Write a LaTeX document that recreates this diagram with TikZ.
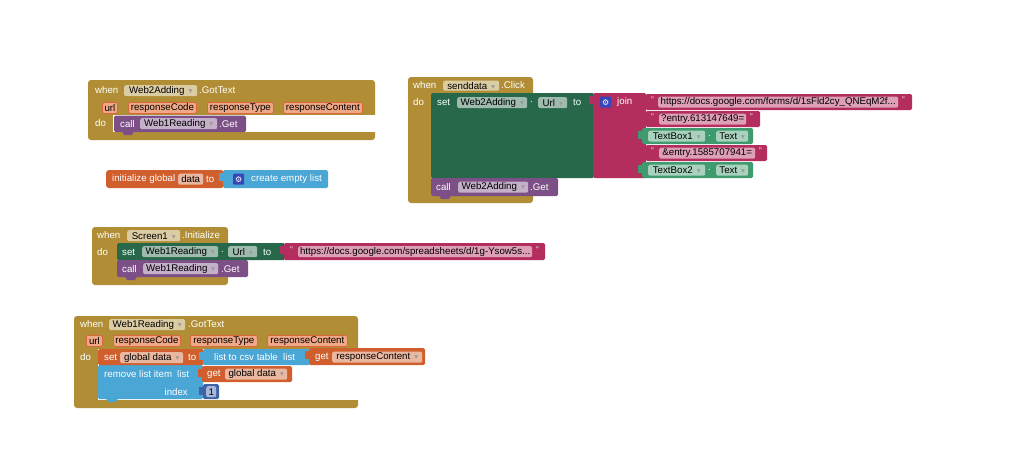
\documentclass[tikz,border=0pt]{standalone}
\usepackage{fontspec}
\setmainfont{Liberation Sans}
\newfontfamily\arrfont{DejaVu Sans}
\definecolor{olv}{HTML}{B18E35}
\definecolor{prp}{HTML}{7C5087}
\definecolor{dgr}{HTML}{27674A}
\definecolor{lgr}{HTML}{3F9A6E}
\definecolor{mag}{HTML}{B32D5E}
\definecolor{blu}{HTML}{4AA6D5}
\definecolor{org}{HTML}{D05F2D}
\definecolor{nbl}{HTML}{3F62A8}
\definecolor{gearb}{HTML}{3646B8}
\definecolor{parf}{HTML}{F0A886}
\definecolor{pard}{HTML}{D9693C}
\definecolor{arrc}{HTML}{9A9A9A}
\tikzset{
  wtxt/.style={text=white, inner sep=0pt, font=\fontsize{9.7}{11}\selectfont},
  fldst/.style={text=black, inner sep=0pt, rounded corners=2pt, font=\fontsize{9.7}{11}\selectfont},
  parst/.style={fldst, fill=parf, draw=pard, line width=0.8pt},
  blk/.style={rounded corners=1.5pt},
  gearst/.style={fill=gearb, minimum size=11pt, inner sep=0pt, rounded corners=1pt, text=white,
                 font=\arrfont\fontsize{8}{8}\selectfont, anchor=north west},
  qst/.style={text=white, inner sep=0pt, font=\fontsize{8}{8}\selectfont, anchor=west},
}
\newcommand\wt[4]{\node[wtxt,anchor=west] (#1) at (#2,#3) {#4};}
\newcommand\fd[7]{\node[fldst,fill=white!55!#6,minimum width={#4-#2},minimum height={#5-#3},anchor=north west] (#1) at (#2,#3) {#7};}
\newcommand\pr[6]{\node[parst,minimum width={#4-#2},minimum height={#5-#3},anchor=north west] (#1) at (#2,#3) {#6};}
\newcommand\dd{\hspace{4pt}{\arrfont\fontsize{7.5}{7}\selectfont\textcolor{arrc}{▾}}}
\newcommand\tb[3]{\fill[#3] (#1-4,#2+3) rectangle (#1+0.5,#2+11);}
\newcommand\nt[3]{\fill[#3] (#1+8,#2-0.5) -- (#1+10,#2+3) -- (#1+18,#2+3) -- (#1+20,#2-0.5) -- cycle;}
\begin{document}
\begin{tikzpicture}[x=1pt,y=-1pt]
\fill[white] (0,0) rectangle (1024,448);
\useasboundingbox (0,0) rectangle (1024,448);

% ---------- Block A: when Web2Adding.GotText ----------
\fill[olv,rounded corners=3pt] (88,80) rectangle (375,140);
\fill[white] (113,115) rectangle (376,131.5);
\fill[prp,blk] (114,115.5) rectangle (246,132);
\nt{114}{132}{prp}
\wt{a1}{95}{90}{when}
\fd{a2}{124}{85}{197}{96}{olv}{Web2Adding\dd}
\wt{a3}{199}{90}{.GotText}
\pr{a4}{102}{102}{117}{113}{url}
\pr{a5}{128}{102}{196}{113}{responseCode}
\pr{a6}{207}{102}{273}{113}{responseType}
\pr{a7}{283}{102}{362}{113}{responseContent}
\wt{a8}{95}{123}{do}
\wt{a9}{120}{124}{call}
\fd{a10}{140}{118}{217}{129}{prp}{Web1Reading\dd}
\wt{a11}{219}{124}{.Get}

% ---------- Block B: initialize global ----------
\fill[org,rounded corners=3pt] (106,170) rectangle (224,188);
\fill[blu,blk] (223,170) rectangle (328,188);
\tb{223}{170}{blu}
\wt{b1}{112}{179}{initialize global}
\fd{b2}{178}{173.5}{203}{184.5}{org}{data}
\wt{b3}{206}{179}{to}
\node[gearst] (b4) at (233,173.5) {⚙};
\wt{b5}{251}{179}{create empty list}

% ---------- Block C: when senddata.Click ----------
\fill[olv,rounded corners=3pt] (408,77) rectangle (533,203);
\fill[dgr,blk] (431,93) rectangle (594,178);
\fill[mag,blk] (593,93) rectangle (646,178);
\tb{593}{93}{mag}
\fill[mag,blk] (645.5,94) rectangle (912,110);
\fill[mag,blk] (645.5,111) rectangle (760,127);
\fill[lgr,blk] (642,128) rectangle (753,144);
\tb{642}{128}{lgr}
\fill[mag,blk] (645.5,145) rectangle (767,161);
\fill[lgr,blk] (642,162) rectangle (753,178);
\tb{642}{162}{lgr}
\fill[prp,blk] (431,178) rectangle (558,196);
\nt{431}{196}{prp}
\wt{c1}{413}{85}{when}
\fd{c2}{443}{80.5}{499}{90.5}{olv}{senddata\dd}
\wt{c3}{501}{85}{.Click}
\wt{c4}{413}{102}{do}
\wt{c5}{437}{102}{set}
\fd{c6}{457}{97}{527}{108}{dgr}{Web2Adding\dd}
\wt{c7}{530}{102}{.}
\fd{c8}{538}{97}{567}{108}{dgr}{Url\dd}
\wt{c9}{573}{102}{to}
\node[gearst] (c10) at (600,96.5) {⚙};
\wt{c11}{617}{102}{join}
\node[qst] (c12) at (651,100) {"};
\fd{c13}{658}{96.5}{898}{107.5}{mag}{https://docs.google.com/forms/d/1sFld2cy\_QNEqM2f...}
\node[qst] (c14) at (902,100) {"};
\node[qst] (c15) at (651,117) {"};
\fd{c16}{659}{113.5}{746}{124.5}{mag}{?entry.613147649=}
\node[qst] (c17) at (750,117) {"};
\fd{c18}{648}{130.5}{705}{141.5}{lgr}{TextBox1\dd}
\wt{c19}{708}{136}{.}
\fd{c20}{716}{130.5}{748}{141.5}{lgr}{Text\dd}
\node[qst] (c21) at (651,151) {"};
\fd{c22}{659}{147.5}{755}{158.5}{mag}{\&entry.1585707941=}
\node[qst] (c23) at (759,151) {"};
\fd{c24}{648}{164.5}{705}{175.5}{lgr}{TextBox2\dd}
\wt{c25}{708}{170}{.}
\fd{c26}{716}{164.5}{748}{175.5}{lgr}{Text\dd}
\wt{c27}{436}{187}{call}
\fd{c28}{458}{181.5}{528}{192.5}{prp}{Web2Adding\dd}
\wt{c29}{530}{187}{.Get}

% ---------- Block D: when Screen1.Initialize ----------
\fill[olv,rounded corners=3pt] (92,227) rectangle (228,285);
\fill[dgr,blk] (117,243) rectangle (285,260);
\fill[mag,blk] (284,243) rectangle (545,260);
\tb{284}{243}{mag}
\fill[prp,blk] (117,260) rectangle (248,277);
\nt{117}{277}{prp}
\wt{d1}{97}{235}{when}
\fd{d2}{127}{230}{180}{241}{olv}{Screen1\dd}
\wt{d3}{182}{235}{.Initialize}
\wt{d4}{97}{252}{do}
\wt{d5}{122}{252}{set}
\fd{d6}{142}{246}{218}{257}{dgr}{Web1Reading\dd}
\wt{d7}{221}{252}{.}
\fd{d8}{228}{246}{257}{257}{dgr}{Url\dd}
\wt{d9}{263}{252}{to}
\node[qst] (d10) at (290,250) {"};
\fd{d11}{298}{246}{532}{257}{mag}{https://docs.google.com/spreadsheets/d/1g-Ysow5s...}
\node[qst] (d12) at (536,250) {"};
\wt{d13}{122}{269}{call}
\fd{d14}{143}{263}{218}{274}{prp}{Web1Reading\dd}
\wt{d15}{221}{269}{.Get}

% ---------- Block E: when Web1Reading.GotText ----------
\fill[olv,rounded corners=3pt] (74,316) rectangle (358,408);
\fill[white] (98,349) rectangle (359,399.5);
\fill[blu,blk] (98,365) rectangle (203,399);
\nt{98}{399}{blu}
\fill[org,blk] (98,349) rectangle (204,365);
\fill[blu,blk] (203,349) rectangle (310,365);
\tb{203}{349}{blu}
\fill[org,blk] (309,348) rectangle (425,365);
\tb{309}{348}{org}
\fill[org,blk] (202,366) rectangle (292,382);
\tb{202}{366}{org}
\fill[nbl,blk] (203,384) rectangle (219,399);
\tb{203}{384}{nbl}
\wt{e1}{80}{324}{when}
\fd{e2}{109}{319}{185}{330}{olv}{Web1Reading\dd}
\wt{e3}{188}{324}{.GotText}
\pr{e4}{86}{335}{102}{346}{url}
\pr{e5}{113}{335}{180}{346}{responseCode}
\pr{e6}{190}{335}{257}{346}{responseType}
\pr{e7}{267}{335}{347}{346}{responseContent}
\wt{e8}{80}{357}{do}
\wt{e9}{104}{357}{set}
\fd{e10}{120}{352}{183}{363}{org}{global data\dd}
\wt{e11}{188}{357}{to}
\wt{e12}{214}{357}{list to csv table}
\wt{e13}{283}{357}{list}
\wt{e14}{315}{357}{get}
\fd{e15}{332}{351.5}{422}{362.5}{org}{responseContent\dd}
\wt{e16}{104}{374}{remove list item}
\wt{e17}{177}{374}{list}
\wt{e18}{207}{374}{get}
\fd{e19}{225}{368.5}{287}{379.5}{org}{global data\dd}
\node[wtxt,anchor=east] (e20) at (188,392) {index};
\fd{e21}{206}{386}{216}{397}{nbl}{1}
\end{tikzpicture}
\end{document}
